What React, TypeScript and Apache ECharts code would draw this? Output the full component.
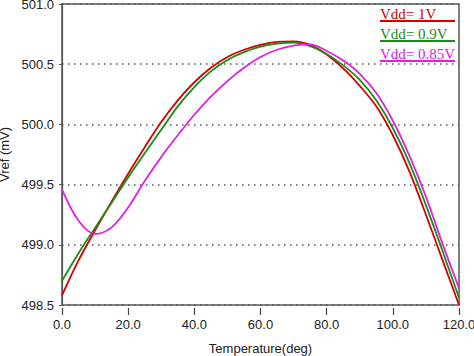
import React, { useEffect, useRef } from "react";
import * as echarts from "echarts";

const temps = [0, 5, 10, 15, 20, 25, 30, 35, 40, 45, 50, 55, 60, 65, 70, 75, 80, 85, 90, 95, 100, 105, 110, 115, 120];
const vdd1 = [498.58, 498.87, 499.12, 499.36, 499.59, 499.81, 500.02, 500.2, 500.35, 500.47, 500.56, 500.62, 500.66, 500.685, 500.69, 500.66, 500.58, 500.465, 500.32, 500.15, 499.91, 499.61, 499.25, 498.875, 498.5];
const vdd09 = [498.7, 498.93, 499.14, 499.35, 499.56, 499.76, 499.955, 500.15, 500.31, 500.44, 500.535, 500.6, 500.645, 500.67, 500.68, 500.65, 500.585, 500.49, 500.37, 500.2, 499.97, 499.68, 499.33, 498.95, 498.56];
const vdd085 = [499.46, 499.2, 499.09, 499.145, 499.31, 499.53, 499.73, 499.91, 500.08, 500.23, 500.36, 500.47, 500.56, 500.62, 500.655, 500.665, 500.61, 500.53, 500.42, 500.26, 500.03, 499.74, 499.4, 499.01, 498.64];
const seriesNames = ["Vdd= 1V", "Vdd= 0.9V", "Vdd= 0.85V"];
const seriesColors = ["#d40000", "#1a8c1a", "#e020e0"];

export default function App() {
  const ref = useRef<HTMLDivElement>(null);
  useEffect(() => {
    if (!ref.current) return;
    const chart = echarts.init(ref.current, null, { renderer: "svg" });
    const sets = [vdd1, vdd09, vdd085];
    const series = sets.map((vals, i) => ({
      name: seriesNames[i],
      type: "line",
      smooth: 0.35,
      showSymbol: false,
      data: temps.map((t, j) => [t, vals[j]]),
      lineStyle: { color: seriesColors[i], width: 1.8 },
      itemStyle: { color: seriesColors[i] },
    }));
    const legendGraphics: any[] = [];
    seriesNames.forEach((n, i) => {
      const y = 6 + i * 20;
      legendGraphics.push({
        type: "text",
        x: 380,
        y: y,
        style: { text: n, fill: seriesColors[i], font: "15px 'Liberation Serif'", textVerticalAlign: "top", textAlign: "left" },
      });
      legendGraphics.push({
        type: "line",
        shape: { x1: 380, y1: y + 15, x2: 455, y2: y + 15 },
        style: { stroke: seriesColors[i], lineWidth: 2 },
      });
    });
    chart.setOption({
      animation: false,
      grid: { left: 62, right: 15, top: 4, bottom: 51, show: true, borderColor: "#555", borderWidth: 1.5, backgroundColor: "transparent", outerBoundsMode: "none", containLabel: false },
      xAxis: {
        type: "value",
        min: 0,
        max: 120,
        interval: 20,
        offset: 3,
        name: "Temperature(deg)",
        nameLocation: "middle",
        nameGap: 34,
        nameTextStyle: { fontFamily: "Liberation Sans", fontSize: 13, color: "#222" },
        axisLine: { show: false },
        axisTick: { show: true, length: 7, lineStyle: { color: "#444", width: 1.2 } },
        axisLabel: { fontFamily: "Liberation Sans", fontSize: 13, color: "#222", margin: 10, formatter: (v: number) => v.toFixed(1) },
        splitLine: { show: false },
      },
      yAxis: {
        type: "value",
        min: 498.5,
        max: 501,
        interval: 0.5,
        offset: 2,
        name: "Vref (mV)",
        nameLocation: "middle",
        nameGap: 42,
        nameTextStyle: { fontFamily: "Liberation Sans", fontSize: 13, color: "#222" },
        axisLine: { show: true, lineStyle: { color: "#555", width: 1.2 } },
        axisTick: { show: true, length: 3, lineStyle: { color: "#555" } },
        axisLabel: { fontFamily: "Liberation Sans", fontSize: 13, color: "#222", margin: 6, formatter: (v: number) => v.toFixed(1) },
        splitLine: { show: true, lineStyle: { color: "#555", width: 1.5, type: [1.5, 4.5] } },
      },
      series,
      graphic: legendGraphics,
    });
    return () => chart.dispose();
  }, []);
  return <div ref={ref} style={{ width: 474, height: 356, position: "absolute", left: 0, top: 0, background: "#fff" }} />;
}
